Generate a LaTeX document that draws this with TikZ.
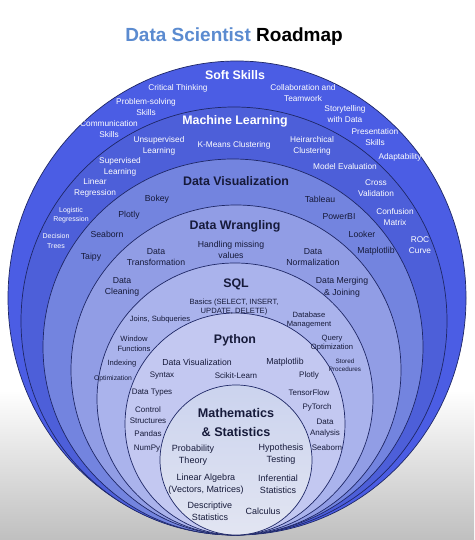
\documentclass[tikz,border=0pt]{standalone}
\usepackage{fontspec}
\setmainfont{Liberation Sans}
\usetikzlibrary{positioning}

\definecolor{ssblue}{HTML}{4B5DE4}
\definecolor{mlblue}{HTML}{4D5FD9}
\definecolor{dvblue}{HTML}{7384DF}
\definecolor{dwblue}{HTML}{919DE5}
\definecolor{sqlblue}{HTML}{AAB3EC}
\definecolor{pyblue}{HTML}{C3C8F1}
\definecolor{mathtop}{HTML}{CBD3EE}
\definecolor{mathbot}{HTML}{E2E5F2}
\definecolor{ringline}{HTML}{1E2766}
\definecolor{inkcol}{HTML}{161A3A}
\definecolor{titleblue}{HTML}{5B8BD0}

\begin{document}
\begin{tikzpicture}[x=1pt, y=-1pt]
	\tikzset{
		ring/.style = {draw=ringline, line width=0.7pt},
		heading/.style = {font={\bfseries\fontsize{12.4}{14}\selectfont}, align=center, inner sep=0pt},
		softtext/.style = {font={\fontsize{8.3}{10.5}\selectfont}, text=white, align=center, inner sep=0pt},
		inktext/.style = {font={\fontsize{8.7}{11.5}\selectfont}, text=inkcol, align=center, inner sep=0pt},
		smalltext/.style = {font={\fontsize{7.6}{9.5}\selectfont}},
		tinytext/.style = {font={\fontsize{6.3}{8}\selectfont}},
	}

	\useasboundingbox (0,0) rectangle (474,540);
	\fill[white] (0,0) rectangle (474,540);
	\shade[top color=white, bottom color=black!25] (0,390) rectangle (474,540);

	% rings, outer to inner, all touching at the bottom
	\foreach \cx/\cy/\rx/\ry/\col in {237/298/229/237/ssblue, 234/321/213/214/mlblue, 233/347/190/188/dvblue, 236/370/165/165/dwblue, 235/399/138/136/sqlblue, 235/424/110/111/pyblue}
		{
			\filldraw[ring, fill=\col] (\cx,\cy) ellipse [x radius=\rx, y radius=\ry];
		}
	\shadedraw[ring, top color=mathtop, bottom color=mathbot] (236,460) ellipse [x radius=76, y radius=75];

	\node[font={\bfseries\fontsize{19}{22}\selectfont}] (title) at (234,37) {\textcolor{titleblue}{Data Scientist} Roadmap};

	% Soft Skills
	\node[heading, text=white] (soft) at (235,75) {Soft Skills};
	\foreach \p/\t [count=\i] in {{(178,88)}/Critical Thinking, {(146,107)}/Problem-solving\\Skills, {(109,129)}/Communication\\Skills, {(303,93)}/Collaboration and\\Teamwork, {(345,114)}/Storytelling\\with Data, {(375,137)}/Presentation\\Skills, {(400,157)}/Adaptability}
		{
			\node[softtext] (soft-\i) at \p {\t};
		}

	% Machine Learning
	\node[heading, text=white] (ml) at (235,121) {Machine Learning};
	\foreach \p/\t [count=\i] in {{(159,146)}/Unsupervised\\Learning, {(234,145)}/K-Means Clustering, {(312,146)}/Heirarchical\\Clustering, {(120,167)}/Supervised\\Learning, {(345,167)}/Model Evaluation, {(95,188)}/Linear\\Regression, {(376,188)}/Cross\\Validation, {(395,217)}/Confusion\\Matrix, {(420,245)}/ROC\\Curve}
		{
			\node[softtext] (ml-\i) at \p {\t};
		}
	\node[softtext, font={\fontsize{7}{9}\selectfont}] (ml-logistic) at (71,215) {Logistic\\Regression};
	\node[softtext, font={\fontsize{7}{9.5}\selectfont}] (ml-trees) at (56,241) {Decision\\Trees};

	% Data Visualization
	\node[heading, text=inkcol] (dv) at (236,181) {Data Visualization};
	\foreach \p/\t [count=\i] in {{(157,199)}/Bokey, {(129,215)}/Plotly, {(107,234)}/Seaborn, {(91,257)}/Taipy, {(320,199)}/Tableau, {(339,217)}/PowerBI, {(362,234)}/Looker, {(376,251)}/Matplotlib}
		{
			\node[inktext] (dv-\i) at \p {\t};
		}

	% Data Wrangling
	\node[heading, text=inkcol] (dw) at (235,226) {Data Wrangling};
	\foreach \p/\t [count=\i] in {{(231,250)}/Handling missing\\values, {(156,257)}/Data\\Transformation, {(313,257)}/Data\\Normalization, {(122,287)}/Data\\Cleaning, {(342,287)}/Data Merging\\\& Joining}
		{
			\node[inktext] (dw-\i) at \p {\t};
		}

	% SQL
	\node[heading, text=inkcol] (sql) at (236,284) {SQL};
	\foreach \p/\t [count=\i] in {{(234,307)}/{Basics (SELECT, INSERT,\\UPDATE, DELETE)}, {(160,320)}/{Joins, Subqueries}, {(309,320)}/Database\\Management, {(134,344)}/Window\\Functions}
		{
			\node[inktext, smalltext] (sql-\i) at \p {\t};
		}
	\node[inktext, smalltext] (sql-query) at (332,343) {Query\\Optimization};
	\node[inktext, smalltext] (sql-index) at (122,364) {Indexing};
	\node[inktext, tinytext] (sql-stored) at (345,365) {Stored\\Procedures};
	\node[inktext, tinytext, font={\fontsize{6.8}{8}\selectfont}] (sql-optim) at (113,379) {Optimization};

	% Python
	\node[heading, text=inkcol] (py) at (235,340) {Python};
	\node[inktext] (py-vis) at (197,362) {Data Visualization};
	\node[inktext] (py-mpl) at (285,362) {Matplotlib};
	\foreach \p/\t [count=\i] in {{(162,376)}/Syntax, {(236,376)}/Scikit-Learn, {(309,375)}/Plotly, {(152,393)}/Data Types, {(309,393)}/TensorFlow, {(148,415)}/Control\\Structures, {(317,407)}/PyTorch, {(148,434)}/Pandas, {(325,428)}/Data\\Analysis, {(147,449)}/NumPy, {(327,448)}/Seaborn}
		{
			\node[inktext, font={\fontsize{8}{11}\selectfont}] (py-\i) at \p {\t};
		}

	% Mathematics & Statistics
	\node[heading, text=inkcol, font={\bfseries\fontsize{12.6}{19}\selectfont}] (math) at (236,422) {Mathematics\\\& Statistics};
	\foreach \p/\t [count=\i] in {{(193,455)}/Probability\\Theory, {(281,454)}/Hypothesis\\Testing, {(206,484)}/{Linear Algebra\\(Vectors, Matrices)}, {(278,484)}/Inferential\\Statistics, {(210,511)}/Descriptive\\Statistics, {(263,511)}/Calculus}
		{
			\node[inktext, font={\fontsize{9}{12}\selectfont}] (math-\i) at \p {\t};
		}

\end{tikzpicture}
\end{document}
